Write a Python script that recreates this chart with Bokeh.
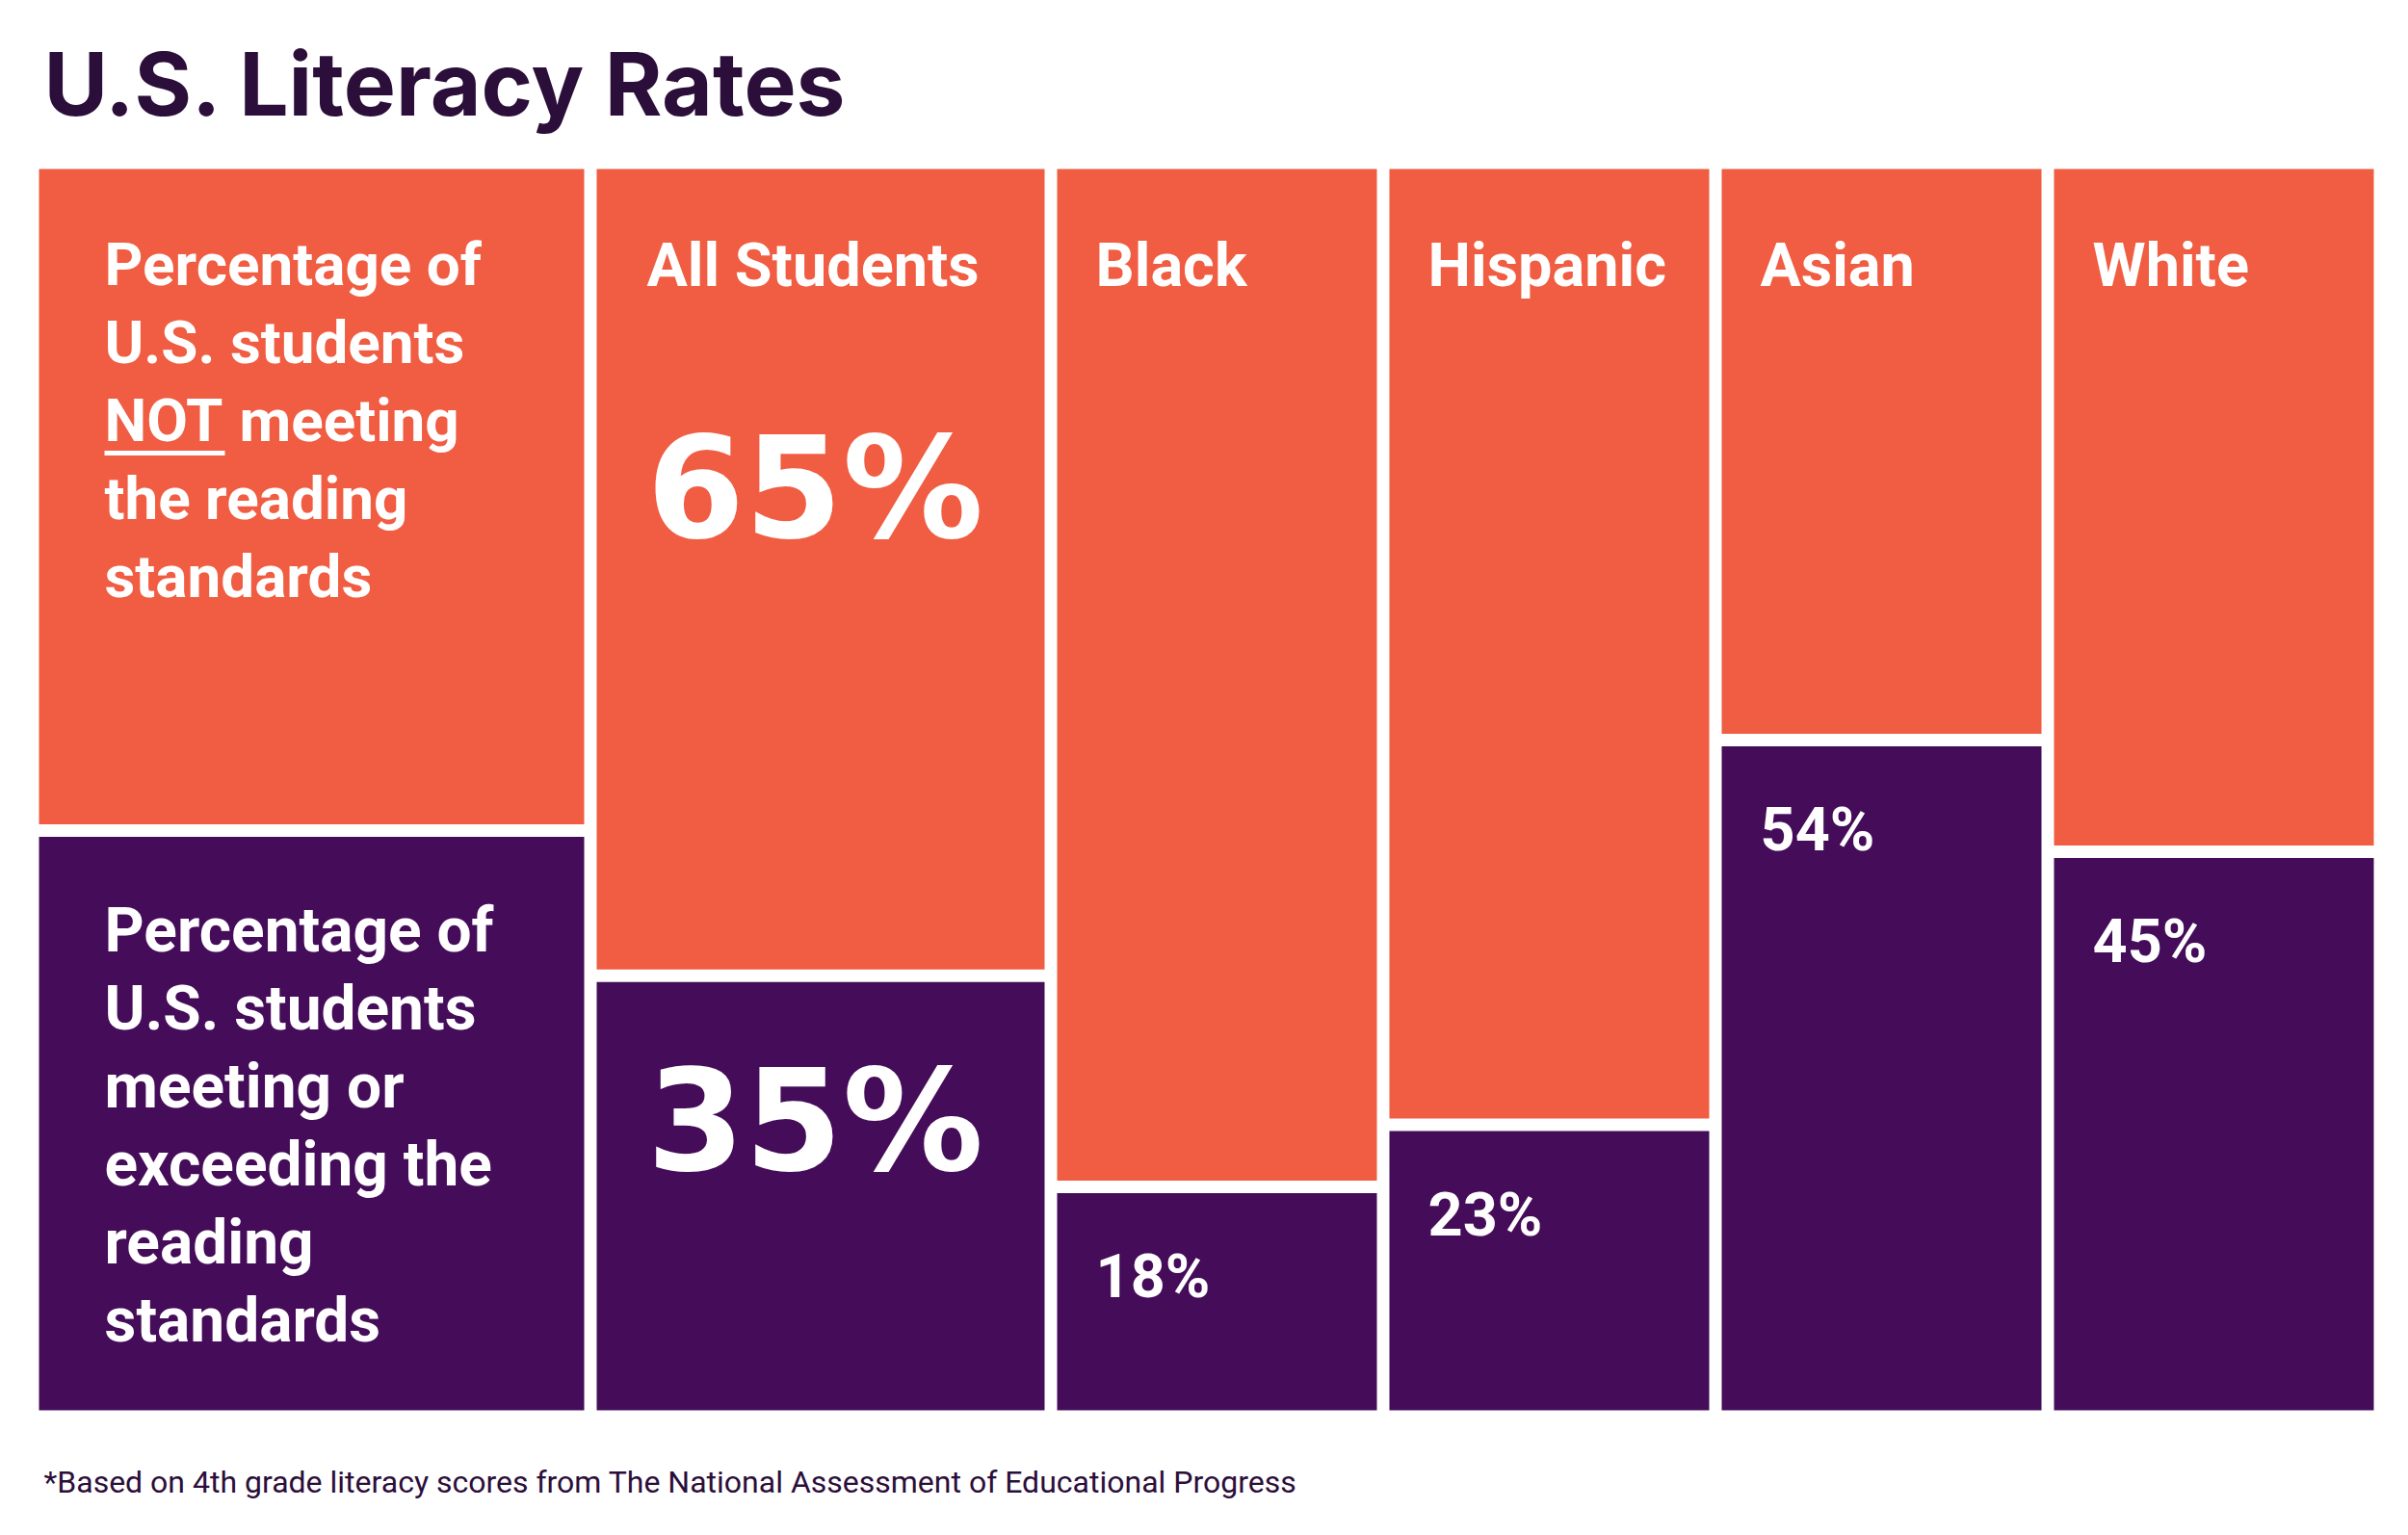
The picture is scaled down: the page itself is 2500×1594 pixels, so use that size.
from bokeh.plotting import figure
from bokeh.models import Range1d
from bokeh.core.properties import value
from bokeh.embed import file_html
from bokeh.resources import INLINE

# ---- data ----
groups = ["All Students", "Black", "Hispanic", "Asian", "White"]
meeting = [35, 18, 23, 54, 45]                  # % meeting or exceeding
not_meeting = [100 - v for v in meeting]        # % NOT meeting
title = "U.S. Literacy Rates"
footnote = "*Based on 4th grade literacy scores from The National Assessment of Educational Progress"
legend_top = ["Percentage of", "U.S. students", "NOT meeting", "the reading", "standards"]
legend_bottom = ["Percentage of", "U.S. students", "meeting or", "exceeding the", "reading", "standards"]

# ---- layout / style ----
W, H = 2500, 1594
TOP_PX, BOT_PX = 175, 1464
UPP = 100.0 / (BOT_PX - TOP_PX)      # data units per pixel (vertical)
GAP = 13 * UPP                        # gap between stacked blocks
ORANGE = "#F05D42"
PURPLE = "#450C5A"
DARK = "#2C0E3A"
LEGEND_SPLIT = 46.7
col_left = [40, 619, 1097, 1442, 1787, 2132]
col_width = [566, 465, 332, 332, 332, 332]
BASE_K = 0.37   # baseline correction factor (fraction of font size)

def dy(px):
    return px * UPP

p = figure(width=W, height=H, x_range=Range1d(0, W),
           y_range=Range1d(-(H - BOT_PX) * UPP, 100 + TOP_PX * UPP),
           output_backend="svg", toolbar_location=None, min_border=0,
           x_axis_location=None, y_axis_location=None)
p.grid.visible = False
p.outline_line_color = None
p.background_fill_color = "white"
p.border_fill_color = "white"

# legend column + data columns
splits = [LEGEND_SPLIT] + meeting
lefts = col_left
rights = [l + w for l, w in zip(col_left, col_width)]
p.quad(left=lefts, right=rights, bottom=[s + GAP / 2 for s in splits], top=[100] * len(splits),
       fill_color=ORANGE, line_color=None)
p.quad(left=lefts, right=rights, bottom=[0] * len(splits), top=[s - GAP / 2 for s in splits],
       fill_color=PURPLE, line_color=None)


def txt(xs, ys, texts, size, font="Roboto", bold=True, color="white"):
    p.text(x=xs, y=[y + dy(BASE_K * size) for y in ys], text=texts, text_font=value(font),
           text_font_style="bold" if bold else "normal", text_font_size=f"{size}px",
           text_color=color, text_baseline="alphabetic", text_align="left")


# title
txt([45], [100 + dy(TOP_PX - 120)], [title], 91, font="Inter", color=DARK)

# category labels
lab_x = [col_left[1] + 52] + [l + 40 for l in col_left[2:]]
txt(lab_x, [100 - dy(123)] * len(groups), groups, 63)

# big all-students numbers
txt([lab_x[0]], [100 - dy(386)], [f"{not_meeting[0]}%"], 146, font="DejaVu Sans")
txt([lab_x[0]], [meeting[0] - GAP / 2 - dy(198)], [f"{meeting[0]}%"], 146, font="DejaVu Sans")

# small percentage labels
txt(lab_x[1:], [v - GAP / 2 - dy(110) for v in meeting[1:]], [f"{v}%" for v in meeting[1:]], 63)

# legend text (top, orange)
LX = 108
for i, line in enumerate(legend_top):
    yy = 100 - dy(122 + 81 * i)
    if line.startswith("NOT"):
        txt([LX], [yy], ["NOT"], 62)
        txt([LX + 140], [yy], [line[4:]], 62)
        p.segment(x0=[LX], x1=[LX + 125], y0=[yy - dy(11)], y1=[yy - dy(11)],
                  line_color="white", line_width=5)
    else:
        txt([LX], [yy], [line], 62)

# legend text (bottom, purple)
for i, line in enumerate(legend_bottom):
    yy = LEGEND_SPLIT - GAP / 2 - dy(121 + 81 * i)
    txt([LX], [yy], [line], 64)

# footnote
txt([45], [-dy(1550 - BOT_PX)], [footnote], 32, bold=False, color=DARK)

open("out.html", "w").write(file_html(p, INLINE))
